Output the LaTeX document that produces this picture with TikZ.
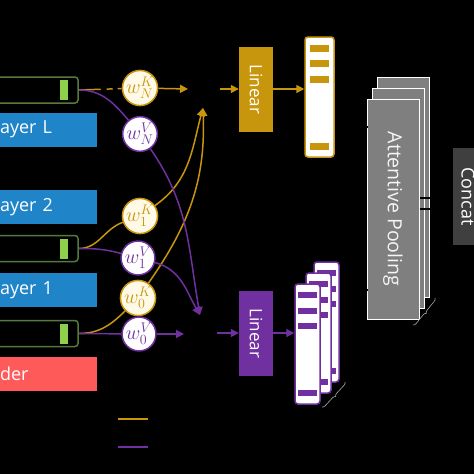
\RequirePackage{fix-cm}
\documentclass[tikz,border=0pt]{standalone}
\usepackage{fontspec}
\setmainfont{Open Sans}
\usetikzlibrary{positioning,calc,arrows.meta,decorations.pathreplacing}
\definecolor{kgold}{HTML}{C8960C}
\definecolor{vpurple}{HTML}{7030A0}
\definecolor{layerblue}{HTML}{1F84C8}
\definecolor{encred}{HTML}{FF5A5A}
\definecolor{hgreen}{HTML}{8ED04B}
\definecolor{hframe}{HTML}{557A3C}
\definecolor{poolgray}{HTML}{7F7F7F}
\definecolor{catgray}{HTML}{3F3F3F}
\definecolor{wfill}{HTML}{FFFAE8}

\begin{document}
\begin{tikzpicture}[x=1pt,y=1pt,
    layerbox/.style={fill=layerblue,minimum width=97pt,minimum height=34pt,inner sep=0pt,
        text width=97pt,align=left,text=white,font=\fontsize{18}{18}\selectfont},
    hbar/.style={draw=hframe,fill=black,line width=1.5pt,rounded corners=3pt,
        minimum width=82pt,minimum height=26pt,inner sep=0pt},
    wk/.style={circle,draw=kgold,fill=wfill,line width=1.5pt,minimum size=32pt,inner sep=0pt,
        text=kgold,font=\fontsize{20}{20}\selectfont},
    wv/.style={wk,draw=vpurple,fill=white,text=vpurple},
    kline/.style={kgold,line width=1.5pt},
    vline/.style={vpurple,line width=1.5pt},
    karrow/.style={kline,-{Triangle[length=8pt,width=8pt]}},
    varrow/.style={vline,-{Triangle[length=8pt,width=8pt]}},
    linbox/.style={rotate=-90,minimum width=85pt,minimum height=34pt,inner sep=0pt,
        text=white,font=\fontsize{17}{17}\selectfont},
    vecbox/.style={draw,fill=white,line width=1.5pt,rounded corners=3pt,inner sep=0pt},
    poolbox/.style={draw=white,fill=poolgray,line width=1pt,minimum width=52pt,minimum height=220pt,inner sep=0pt},
    brc/.style={decorate,decoration={brace,amplitude=3pt},gray!70,line width=0.6pt},
    hid/.style={black,line width=1.5pt}]

    \fill[black] (0,0) rectangle (474,-474);
    \useasboundingbox (0,0) rectangle (474,-474);

    % layers
    \node[layerbox] (layL) at (48.5,-129.5) {ayer L};
    \node[layerbox] (lay2) at (48.5,-207) {ayer 2};
    \node[layerbox] (lay1) at (48.5,-290) {ayer 1};
    \node[layerbox,fill=encred] (enc) at (48.5,-374) {der};

    % hidden states
    \node[hbar] (hN) at (37,-90) {};
    \node[hbar] (h1) at (37,-248.5) {};
    \node[hbar] (h0) at (37,-333.5) {};
    \foreach \y in {-90,-248.5,-333.5}
        \fill[hgreen] (60,\y-10) rectangle (68,\y+10);

    % weights
    \node[wk] (wNK) at (140,-88) {$w_N^K$};
    \node[wv] (wNV) at (140,-134) {$w_N^V$};
    \node[wk] (w1K) at (140,-216) {$w_1^K$};
    \node[wv] (w1V) at (138,-258) {$w_1^V$};
    \node[wk] (w0K) at (138,-298) {$w_0^K$};
    \node[wv] (w0V) at (139,-334) {$w_0^V$};

    \coordinate (kN) at (188,-89);
    \coordinate (kS) at (203,-108);
    \coordinate (vS) at (200,-315);
    \coordinate (v0) at (184,-334);
    \coordinate (kin) at (220,-89);
    \coordinate (vin) at (217,-333);

    % keys
    \draw[kline,dash pattern=on 22pt off 6pt on 6pt off 5pt] (hN.east) -- (wNK);
    \draw[karrow] (wNK) -- (kN);
    \draw[kline] (h1.east) to[out=0,in=200] (w1K);
    \draw[karrow] (w1K) to[out=35,in=-105] (kS);
    \draw[kline] (h0.east) to[out=0,in=225] (w0K);
    \draw[karrow] (w0K) to[out=55,in=-88] (kS);

    % values
    \draw[vline] (hN.east) to[out=0,in=130] (wNV);
    \draw[varrow] (wNV) to[out=-55,in=100] (vS);
    \draw[vline] (h1.east) to[out=0,in=165] (w1V);
    \draw[varrow] (w1V) to[out=-15,in=120] (vS);
    \draw[vline] (h0.east) -- (w0V);
    \draw[varrow] (w0V) -- (v0);

    % linear layers
    \node[linbox,fill=kgold] (linK) at (256,-89.5) {Linear};
    \node[linbox,fill=vpurple] (linV) at (256,-333.5) {Linear};
    \draw[karrow] (kin) -- (linK.south |- kin);
    \draw[varrow] (vin) -- (linV.south |- vin);

    % key vector
    \node[vecbox,draw=kgold,minimum width=29pt,minimum height=120pt] (vecK) at (319.5,-97) {};
    \foreach \d in {8,23,39,106}
        \fill[kgold] (310,-37-\d) rectangle (329,-43.5-\d);
    \draw[karrow] (linK.north |- kin) -- (vecK.west |- kin);

    % value vectors
    \foreach \x/\t/\n in {314/262/vecC,306/273/vecB,295/284/vecA}{
        \node[vecbox,draw=vpurple,minimum width=25pt,minimum height=120pt] (\n) at (\x+12.5,-\t-60) {};
        \foreach \d in {8,24,39,106}
            \fill[vpurple] (\x+3,-\t-\d) rectangle (\x+22,-\t-\d-6);
    }
    \draw[varrow] (linV.north |- vin) -- (vecA.west |- vin);
    \draw[brc] (345,-382) -- (322,-407);

    % attentive pooling
    \node[poolbox] (poolC) at (403,-187) {};
    \node[poolbox] (poolB) at (398,-198) {};
    \node[poolbox,text=white!92!gray,font=\fontsize{19.5}{19.5}\selectfont] (poolA) at (393,-209)
        {\rotatebox{-90}{Attentive Pooling}};
    \draw[brc] (435,-298) -- (413,-325);

    % concat
    \node[rotate=-90,fill=catgray,minimum width=97pt,minimum height=30pt,inner sep=0pt,
        text=white,font=\fontsize{18}{18}\selectfont] (cat) at (468,-196.5) {Concat};

    % connectors (black)
    \coordinate (pk) at (368,-127);
    \coordinate (pv) at (368,-290);
    \coordinate (ca) at (419.5,-198);
    \coordinate (cb) at (419.5,-209);
    \draw[hid] (vecK.east |- pk) -- (pk);
    \draw[hid] (vecC.east |- pv) -- (pv);
    \draw[hid] (ca) -- (cat.south |- ca);
    \draw[hid] (cb) -- (cat.south |- cb);

    % legend
    \draw[kline] (118,-419) -- (148,-419);
    \draw[vline] (118,-447) -- (148,-447);
\end{tikzpicture}
\end{document}
